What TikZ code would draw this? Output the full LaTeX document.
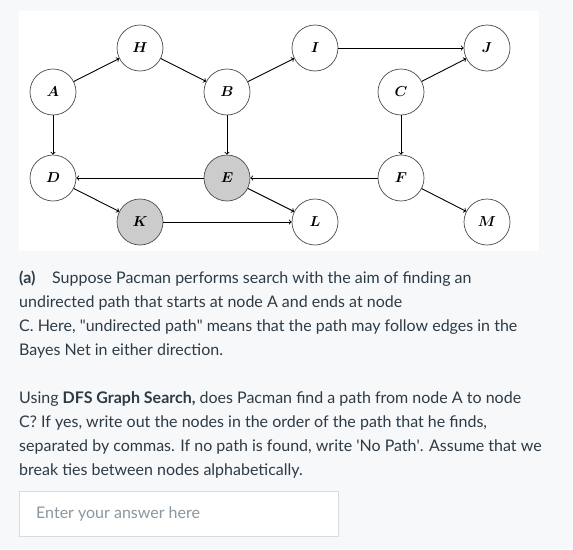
\documentclass[tikz,border=0pt]{standalone}
\usepackage{fontspec}
\setmainfont{Lato}
\usepackage{tikz}
\usetikzlibrary{positioning}
\usepackage{xcolor}
\definecolor{pagebg}{HTML}{F7F8FA}
\definecolor{textcol}{HTML}{2D3B45}
\definecolor{hintcol}{HTML}{8B969E}
\definecolor{boxline}{HTML}{D7DCE1}

\tikzset{
  var/.style={circle, draw=black!70, line width=0.7pt, fill=white, minimum size=46pt, inner sep=0pt, font=\fontsize{15}{15}\selectfont\boldmath},
  obs/.style={var, fill=gray!40},
  edge/.style={->, line width=0.9pt},
  txt/.style={anchor=base west, inner sep=0pt, text=textcol, font=\fontsize{16}{18}\selectfont},
}

\begin{document}
\begin{tikzpicture}[x=1pt,y=-1pt]
  % background
  \fill[pagebg] (0,0) rectangle (573,549);
  \useasboundingbox (0,0) rectangle (573,549);
  \fill[white] (19,11) rectangle (539,251);

  % nodes
  \node[var] (A) at (53,92) {$A$};
  \node[var] (H) at (140,48) {$H$};
  \node[var] (B) at (227,92) {$B$};
  \node[var] (I) at (315,48) {$I$};
  \node[var] (J) at (487,48) {$J$};
  \node[var] (C) at (401,92) {$C$};
  \node[var] (D) at (53,178) {$D$};
  \node[obs] (E) at (227,178) {$E$};
  \node[var] (F) at (401,178) {$F$};
  \node[obs] (K) at (140,222) {$K$};
  \node[var] (L) at (315,222) {$L$};
  \node[var] (M) at (487,222) {$M$};

  % edges
  \draw[edge] (A) -- (H);
  \draw[edge] (H) -- (B);
  \draw[edge] (B) -- (I);
  \draw[edge] (I) -- (J);
  \draw[edge] (C) -- (J);
  \draw[edge] (A) -- (D);
  \draw[edge] (B) -- (E);
  \draw[edge] (C) -- (F);
  \draw[edge] (E) -- (D);
  \draw[edge] (F) -- (E);
  \draw[edge] (D) -- (K);
  \draw[edge] (K) -- (L);
  \draw[edge] (E) -- (L);
  \draw[edge] (F) -- (M);

  % question text
  \node[txt] (tag) at (19,283.5) {\textbf{(a)}};
  \node[txt] (q1) at (52,283.5) {Suppose Pacman performs search with the aim of finding an};
  \node[txt] (q2) at (19,307.5) {undirected path that starts at node A and ends at node};
  \node[txt] (q3) at (19,331.5) {C. Here, \textquotedbl undirected path\textquotedbl{} means that the path may follow edges in the};
  \node[txt] (q4) at (19,355.5) {Bayes Net in either direction.};
  \node[txt] (q5) at (19,403.5) {Using \textbf{DFS Graph Search,} does Pacman find a path from node A to node};
  \node[txt] (q6) at (19,427.5) {C? If yes, write out the nodes in the order of the path that he finds,};
  \node[txt] (q7) at (19,451.5) {separated by commas. If no path is found, write \textquotesingle No Path\textquotesingle. Assume that we};
  \node[txt] (q8) at (19,475.5) {break ties between nodes alphabetically.};

  % answer box
  \node[draw=boxline, fill=white, line width=0.8pt, minimum width=319pt, minimum height=45pt, anchor=north west, inner sep=0pt] (ans) at (19,490.5) {};
  \node[txt, text=hintcol] (hint) at (36,518) {Enter your answer here};
\end{tikzpicture}
\end{document}
